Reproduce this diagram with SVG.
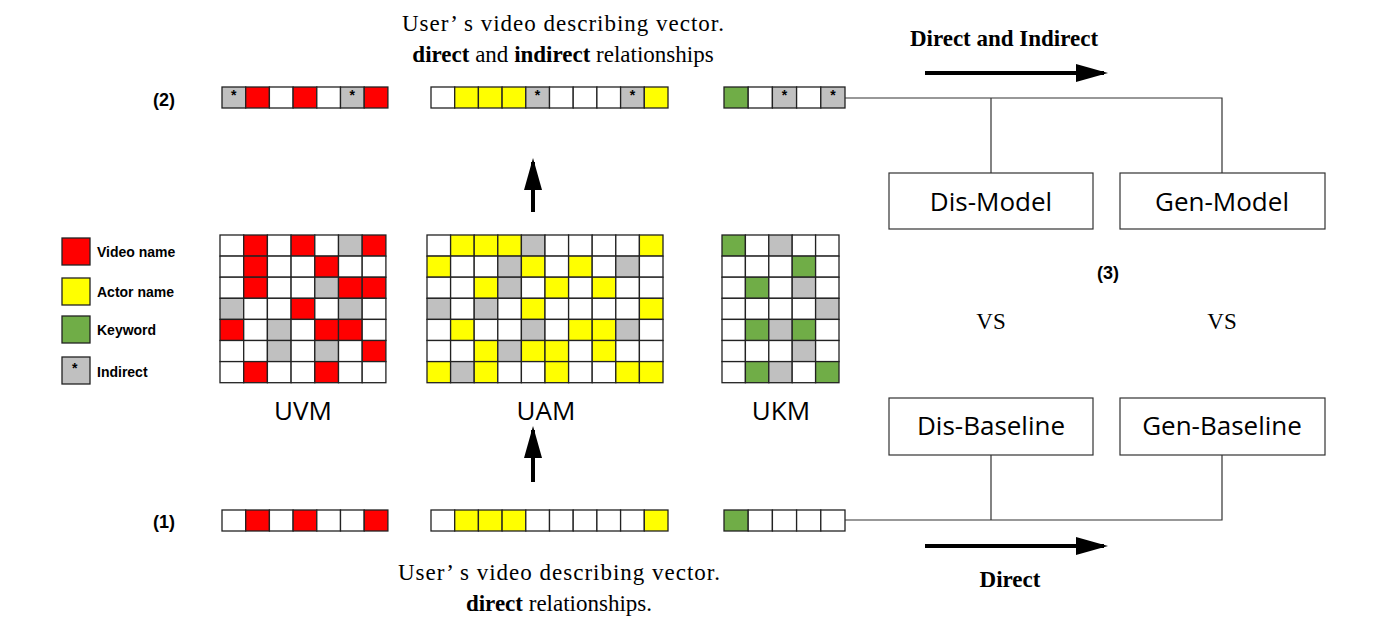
<svg xmlns="http://www.w3.org/2000/svg" width="1390" height="631" viewBox="0 0 1390 631">
<style>
.c{stroke:#222;stroke-width:1.3}
.w{fill:#fff}.r{fill:#f00}.y{fill:#ff0}.k{fill:#70ad47}.g{fill:#c0c0c0}
.st{font-family:"Liberation Sans",Arial,sans-serif;font-weight:bold;font-size:14px;fill:#000}
.cap{font-family:"Open Sans","DejaVu Sans",sans-serif;font-size:26px;fill:#000}
.bx{font-family:"Open Sans","DejaVu Sans",sans-serif;font-size:26px;fill:#000}
.ser{font-family:"Liberation Serif","Times New Roman",serif;font-size:23px;fill:#000}
.lbl{font-family:"Liberation Sans",Arial,sans-serif;font-weight:bold;font-size:18px}
.box{fill:#fff;stroke:#333;stroke-width:1.2}
.ln{stroke:#333;stroke-width:1.2;fill:none}
.ar{stroke:#000;stroke-width:4;fill:none}
</style>
<defs>
<marker id="ah" markerWidth="8" markerHeight="4.5" refX="7" refY="2.25" orient="auto" markerUnits="strokeWidth"><path d="M0,0 L8,2.25 L0,4.5 z" fill="#000"/></marker>
</defs>
<rect width="1390" height="631" fill="#fff"/>

<g id="legend">
<rect x="62" y="238" width="28" height="27" class="c r"/><text x="97" y="257" class="st">Video name</text>
<rect x="62" y="278" width="28" height="27" class="c y"/><text x="97" y="297" class="st">Actor name</text>
<rect x="62" y="316" width="28" height="27" class="c k"/><text x="97" y="335" class="st">Keyword</text>
<rect x="62" y="357" width="28" height="27" class="c g"/><text x="72" y="373" class="st">*</text><text x="97" y="377" class="st">Indirect</text>
</g>

<g id="UVM">
<g transform="translate(220,235)">
<rect x="0" y="0" width="23.7" height="21.1" class="c w"/><rect x="23.7" y="0" width="23.7" height="21.1" class="c r"/><rect x="47.4" y="0" width="23.7" height="21.1" class="c w"/><rect x="71.1" y="0" width="23.7" height="21.1" class="c r"/><rect x="94.8" y="0" width="23.7" height="21.1" class="c w"/><rect x="118.5" y="0" width="23.7" height="21.1" class="c g"/><rect x="142.2" y="0" width="23.7" height="21.1" class="c r"/>
<rect x="0" y="21.1" width="23.7" height="21.1" class="c w"/><rect x="23.7" y="21.1" width="23.7" height="21.1" class="c r"/><rect x="47.4" y="21.1" width="23.7" height="21.1" class="c w"/><rect x="71.1" y="21.1" width="23.7" height="21.1" class="c w"/><rect x="94.8" y="21.1" width="23.7" height="21.1" class="c r"/><rect x="118.5" y="21.1" width="23.7" height="21.1" class="c w"/><rect x="142.2" y="21.1" width="23.7" height="21.1" class="c w"/>
<rect x="0" y="42.2" width="23.7" height="21.1" class="c w"/><rect x="23.7" y="42.2" width="23.7" height="21.1" class="c r"/><rect x="47.4" y="42.2" width="23.7" height="21.1" class="c w"/><rect x="71.1" y="42.2" width="23.7" height="21.1" class="c w"/><rect x="94.8" y="42.2" width="23.7" height="21.1" class="c g"/><rect x="118.5" y="42.2" width="23.7" height="21.1" class="c r"/><rect x="142.2" y="42.2" width="23.7" height="21.1" class="c r"/>
<rect x="0" y="63.3" width="23.7" height="21.1" class="c g"/><rect x="23.7" y="63.3" width="23.7" height="21.1" class="c w"/><rect x="47.4" y="63.3" width="23.7" height="21.1" class="c w"/><rect x="71.1" y="63.3" width="23.7" height="21.1" class="c r"/><rect x="94.8" y="63.3" width="23.7" height="21.1" class="c w"/><rect x="118.5" y="63.3" width="23.7" height="21.1" class="c g"/><rect x="142.2" y="63.3" width="23.7" height="21.1" class="c w"/>
<rect x="0" y="84.4" width="23.7" height="21.1" class="c r"/><rect x="23.7" y="84.4" width="23.7" height="21.1" class="c w"/><rect x="47.4" y="84.4" width="23.7" height="21.1" class="c g"/><rect x="71.1" y="84.4" width="23.7" height="21.1" class="c w"/><rect x="94.8" y="84.4" width="23.7" height="21.1" class="c r"/><rect x="118.5" y="84.4" width="23.7" height="21.1" class="c r"/><rect x="142.2" y="84.4" width="23.7" height="21.1" class="c w"/>
<rect x="0" y="105.5" width="23.7" height="21.1" class="c w"/><rect x="23.7" y="105.5" width="23.7" height="21.1" class="c w"/><rect x="47.4" y="105.5" width="23.7" height="21.1" class="c g"/><rect x="71.1" y="105.5" width="23.7" height="21.1" class="c w"/><rect x="94.8" y="105.5" width="23.7" height="21.1" class="c g"/><rect x="118.5" y="105.5" width="23.7" height="21.1" class="c w"/><rect x="142.2" y="105.5" width="23.7" height="21.1" class="c r"/>
<rect x="0" y="126.6" width="23.7" height="21.1" class="c w"/><rect x="23.7" y="126.6" width="23.7" height="21.1" class="c r"/><rect x="47.4" y="126.6" width="23.7" height="21.1" class="c w"/><rect x="71.1" y="126.6" width="23.7" height="21.1" class="c w"/><rect x="94.8" y="126.6" width="23.7" height="21.1" class="c r"/><rect x="118.5" y="126.6" width="23.7" height="21.1" class="c w"/><rect x="142.2" y="126.6" width="23.7" height="21.1" class="c w"/>
</g>
<text x="303" y="420" text-anchor="middle" class="cap">UVM</text>
</g>

<g id="UAM">
<g transform="translate(427,235)">
<rect x="0" y="0" width="23.6" height="21.1" class="c w"/><rect x="23.6" y="0" width="23.6" height="21.1" class="c y"/><rect x="47.2" y="0" width="23.6" height="21.1" class="c y"/><rect x="70.8" y="0" width="23.6" height="21.1" class="c y"/><rect x="94.4" y="0" width="23.6" height="21.1" class="c g"/><rect x="118" y="0" width="23.6" height="21.1" class="c w"/><rect x="141.6" y="0" width="23.6" height="21.1" class="c w"/><rect x="165.2" y="0" width="23.6" height="21.1" class="c w"/><rect x="188.8" y="0" width="23.6" height="21.1" class="c w"/><rect x="212.4" y="0" width="23.6" height="21.1" class="c y"/>
<rect x="0" y="21.1" width="23.6" height="21.1" class="c y"/><rect x="23.6" y="21.1" width="23.6" height="21.1" class="c w"/><rect x="47.2" y="21.1" width="23.6" height="21.1" class="c w"/><rect x="70.8" y="21.1" width="23.6" height="21.1" class="c g"/><rect x="94.4" y="21.1" width="23.6" height="21.1" class="c y"/><rect x="118" y="21.1" width="23.6" height="21.1" class="c w"/><rect x="141.6" y="21.1" width="23.6" height="21.1" class="c y"/><rect x="165.2" y="21.1" width="23.6" height="21.1" class="c w"/><rect x="188.8" y="21.1" width="23.6" height="21.1" class="c g"/><rect x="212.4" y="21.1" width="23.6" height="21.1" class="c w"/>
<rect x="0" y="42.2" width="23.6" height="21.1" class="c w"/><rect x="23.6" y="42.2" width="23.6" height="21.1" class="c w"/><rect x="47.2" y="42.2" width="23.6" height="21.1" class="c y"/><rect x="70.8" y="42.2" width="23.6" height="21.1" class="c g"/><rect x="94.4" y="42.2" width="23.6" height="21.1" class="c w"/><rect x="118" y="42.2" width="23.6" height="21.1" class="c y"/><rect x="141.6" y="42.2" width="23.6" height="21.1" class="c w"/><rect x="165.2" y="42.2" width="23.6" height="21.1" class="c y"/><rect x="188.8" y="42.2" width="23.6" height="21.1" class="c w"/><rect x="212.4" y="42.2" width="23.6" height="21.1" class="c w"/>
<rect x="0" y="63.3" width="23.6" height="21.1" class="c g"/><rect x="23.6" y="63.3" width="23.6" height="21.1" class="c w"/><rect x="47.2" y="63.3" width="23.6" height="21.1" class="c g"/><rect x="70.8" y="63.3" width="23.6" height="21.1" class="c w"/><rect x="94.4" y="63.3" width="23.6" height="21.1" class="c y"/><rect x="118" y="63.3" width="23.6" height="21.1" class="c w"/><rect x="141.6" y="63.3" width="23.6" height="21.1" class="c w"/><rect x="165.2" y="63.3" width="23.6" height="21.1" class="c w"/><rect x="188.8" y="63.3" width="23.6" height="21.1" class="c w"/><rect x="212.4" y="63.3" width="23.6" height="21.1" class="c y"/>
<rect x="0" y="84.4" width="23.6" height="21.1" class="c w"/><rect x="23.6" y="84.4" width="23.6" height="21.1" class="c y"/><rect x="47.2" y="84.4" width="23.6" height="21.1" class="c w"/><rect x="70.8" y="84.4" width="23.6" height="21.1" class="c w"/><rect x="94.4" y="84.4" width="23.6" height="21.1" class="c g"/><rect x="118" y="84.4" width="23.6" height="21.1" class="c w"/><rect x="141.6" y="84.4" width="23.6" height="21.1" class="c y"/><rect x="165.2" y="84.4" width="23.6" height="21.1" class="c y"/><rect x="188.8" y="84.4" width="23.6" height="21.1" class="c g"/><rect x="212.4" y="84.4" width="23.6" height="21.1" class="c w"/>
<rect x="0" y="105.5" width="23.6" height="21.1" class="c w"/><rect x="23.6" y="105.5" width="23.6" height="21.1" class="c w"/><rect x="47.2" y="105.5" width="23.6" height="21.1" class="c y"/><rect x="70.8" y="105.5" width="23.6" height="21.1" class="c g"/><rect x="94.4" y="105.5" width="23.6" height="21.1" class="c y"/><rect x="118" y="105.5" width="23.6" height="21.1" class="c y"/><rect x="141.6" y="105.5" width="23.6" height="21.1" class="c w"/><rect x="165.2" y="105.5" width="23.6" height="21.1" class="c y"/><rect x="188.8" y="105.5" width="23.6" height="21.1" class="c w"/><rect x="212.4" y="105.5" width="23.6" height="21.1" class="c w"/>
<rect x="0" y="126.6" width="23.6" height="21.1" class="c y"/><rect x="23.6" y="126.6" width="23.6" height="21.1" class="c g"/><rect x="47.2" y="126.6" width="23.6" height="21.1" class="c y"/><rect x="70.8" y="126.6" width="23.6" height="21.1" class="c w"/><rect x="94.4" y="126.6" width="23.6" height="21.1" class="c w"/><rect x="118" y="126.6" width="23.6" height="21.1" class="c y"/><rect x="141.6" y="126.6" width="23.6" height="21.1" class="c w"/><rect x="165.2" y="126.6" width="23.6" height="21.1" class="c w"/><rect x="188.8" y="126.6" width="23.6" height="21.1" class="c y"/><rect x="212.4" y="126.6" width="23.6" height="21.1" class="c y"/>
</g>
<text x="546" y="420" text-anchor="middle" class="cap">UAM</text>
</g>

<g id="UKM">
<g transform="translate(722,235)">
<rect x="0" y="0" width="23.4" height="21.1" class="c k"/><rect x="23.4" y="0" width="23.4" height="21.1" class="c w"/><rect x="46.8" y="0" width="23.4" height="21.1" class="c g"/><rect x="70.2" y="0" width="23.4" height="21.1" class="c w"/><rect x="93.6" y="0" width="23.4" height="21.1" class="c w"/>
<rect x="0" y="21.1" width="23.4" height="21.1" class="c w"/><rect x="23.4" y="21.1" width="23.4" height="21.1" class="c w"/><rect x="46.8" y="21.1" width="23.4" height="21.1" class="c w"/><rect x="70.2" y="21.1" width="23.4" height="21.1" class="c k"/><rect x="93.6" y="21.1" width="23.4" height="21.1" class="c w"/>
<rect x="0" y="42.2" width="23.4" height="21.1" class="c w"/><rect x="23.4" y="42.2" width="23.4" height="21.1" class="c k"/><rect x="46.8" y="42.2" width="23.4" height="21.1" class="c w"/><rect x="70.2" y="42.2" width="23.4" height="21.1" class="c g"/><rect x="93.6" y="42.2" width="23.4" height="21.1" class="c w"/>
<rect x="0" y="63.3" width="23.4" height="21.1" class="c w"/><rect x="23.4" y="63.3" width="23.4" height="21.1" class="c w"/><rect x="46.8" y="63.3" width="23.4" height="21.1" class="c w"/><rect x="70.2" y="63.3" width="23.4" height="21.1" class="c w"/><rect x="93.6" y="63.3" width="23.4" height="21.1" class="c g"/>
<rect x="0" y="84.4" width="23.4" height="21.1" class="c w"/><rect x="23.4" y="84.4" width="23.4" height="21.1" class="c k"/><rect x="46.8" y="84.4" width="23.4" height="21.1" class="c g"/><rect x="70.2" y="84.4" width="23.4" height="21.1" class="c k"/><rect x="93.6" y="84.4" width="23.4" height="21.1" class="c w"/>
<rect x="0" y="105.5" width="23.4" height="21.1" class="c w"/><rect x="23.4" y="105.5" width="23.4" height="21.1" class="c w"/><rect x="46.8" y="105.5" width="23.4" height="21.1" class="c w"/><rect x="70.2" y="105.5" width="23.4" height="21.1" class="c g"/><rect x="93.6" y="105.5" width="23.4" height="21.1" class="c w"/>
<rect x="0" y="126.6" width="23.4" height="21.1" class="c w"/><rect x="23.4" y="126.6" width="23.4" height="21.1" class="c k"/><rect x="46.8" y="126.6" width="23.4" height="21.1" class="c g"/><rect x="70.2" y="126.6" width="23.4" height="21.1" class="c w"/><rect x="93.6" y="126.6" width="23.4" height="21.1" class="c k"/>
</g>
<text x="781" y="420" text-anchor="middle" class="cap">UKM</text>
</g>

<g id="vectors2">
<text x="153" y="106" class="lbl">(2)</text>
<g transform="translate(222,87)">
<rect x="0" y="0" width="23.7" height="21" class="c g"/><rect x="23.7" y="0" width="23.7" height="21" class="c r"/><rect x="47.4" y="0" width="23.7" height="21" class="c w"/><rect x="71.1" y="0" width="23.7" height="21" class="c r"/><rect x="94.8" y="0" width="23.7" height="21" class="c w"/><rect x="118.5" y="0" width="23.7" height="21" class="c g"/><rect x="142.2" y="0" width="23.7" height="21" class="c r"/>
<text x="11.8" y="13" text-anchor="middle" class="st">*</text><text x="130.3" y="13" text-anchor="middle" class="st">*</text>
</g>
<g transform="translate(431,87)">
<rect x="0" y="0" width="23.7" height="21" class="c w"/><rect x="23.7" y="0" width="23.7" height="21" class="c y"/><rect x="47.4" y="0" width="23.7" height="21" class="c y"/><rect x="71.1" y="0" width="23.7" height="21" class="c y"/><rect x="94.8" y="0" width="23.7" height="21" class="c g"/><rect x="118.5" y="0" width="23.7" height="21" class="c w"/><rect x="142.2" y="0" width="23.7" height="21" class="c w"/><rect x="165.9" y="0" width="23.7" height="21" class="c w"/><rect x="189.6" y="0" width="23.7" height="21" class="c g"/><rect x="213.3" y="0" width="23.7" height="21" class="c y"/>
<text x="106.6" y="13" text-anchor="middle" class="st">*</text><text x="201.4" y="13" text-anchor="middle" class="st">*</text>
</g>
<g transform="translate(724,87)">
<rect x="0" y="0" width="24.2" height="21" class="c k"/><rect x="24.2" y="0" width="24.2" height="21" class="c w"/><rect x="48.4" y="0" width="24.2" height="21" class="c g"/><rect x="72.6" y="0" width="24.2" height="21" class="c w"/><rect x="96.8" y="0" width="24.2" height="21" class="c g"/>
<text x="60.5" y="13" text-anchor="middle" class="st">*</text><text x="108.9" y="13" text-anchor="middle" class="st">*</text>
</g>
</g>

<g id="vectors1">
<text x="153" y="528" class="lbl">(1)</text>
<g transform="translate(222,510)">
<rect x="0" y="0" width="23.7" height="21" class="c w"/><rect x="23.7" y="0" width="23.7" height="21" class="c r"/><rect x="47.4" y="0" width="23.7" height="21" class="c w"/><rect x="71.1" y="0" width="23.7" height="21" class="c r"/><rect x="94.8" y="0" width="23.7" height="21" class="c w"/><rect x="118.5" y="0" width="23.7" height="21" class="c w"/><rect x="142.2" y="0" width="23.7" height="21" class="c r"/>
</g>
<g transform="translate(431,510)">
<rect x="0" y="0" width="23.7" height="21" class="c w"/><rect x="23.7" y="0" width="23.7" height="21" class="c y"/><rect x="47.4" y="0" width="23.7" height="21" class="c y"/><rect x="71.1" y="0" width="23.7" height="21" class="c y"/><rect x="94.8" y="0" width="23.7" height="21" class="c w"/><rect x="118.5" y="0" width="23.7" height="21" class="c w"/><rect x="142.2" y="0" width="23.7" height="21" class="c w"/><rect x="165.9" y="0" width="23.7" height="21" class="c w"/><rect x="189.6" y="0" width="23.7" height="21" class="c w"/><rect x="213.3" y="0" width="23.7" height="21" class="c y"/>
</g>
<g transform="translate(724,510)">
<rect x="0" y="0" width="24.2" height="21" class="c k"/><rect x="24.2" y="0" width="24.2" height="21" class="c w"/><rect x="48.4" y="0" width="24.2" height="21" class="c w"/><rect x="72.6" y="0" width="24.2" height="21" class="c w"/><rect x="96.8" y="0" width="24.2" height="21" class="c w"/>
</g>
</g>

<g id="captions">
<text x="563" y="31" text-anchor="middle" class="ser" textLength="322">User’ s video describing vector.</text>
<text x="563" y="62" text-anchor="middle" class="ser"><tspan font-weight="bold">direct</tspan> and <tspan font-weight="bold">indirect</tspan> relationships</text>
<text x="559" y="580" text-anchor="middle" class="ser" textLength="322">User’ s video describing vector.</text>
<text x="559" y="611" text-anchor="middle" class="ser"><tspan font-weight="bold">direct</tspan> relationships.</text>
<text x="1004" y="46" text-anchor="middle" class="ser" font-weight="bold" font-size="22">Direct and Indirect</text>
<text x="1010" y="587" text-anchor="middle" class="ser" font-weight="bold" font-size="22">Direct</text>
<text x="1108" y="279" text-anchor="middle" class="lbl">(3)</text>
<text x="991" y="329" text-anchor="middle" class="ser" font-size="27">VS</text>
<text x="1222" y="329" text-anchor="middle" class="ser" font-size="27">VS</text>
</g>

<g id="connectors">
<path class="ln" d="M845,98 H1222 V173 M991,98 V173"/>
<path class="ln" d="M845,520 H1222 V455 M991,520 V455"/>
<line x1="925" y1="73" x2="1104" y2="73" class="ar" marker-end="url(#ah)"/>
<line x1="925" y1="546" x2="1104" y2="546" class="ar" marker-end="url(#ah)"/>
<line x1="533" y1="212" x2="533" y2="162" class="ar" stroke-width="3" marker-end="url(#ah)"/>
<line x1="533" y1="482" x2="533" y2="430" class="ar" stroke-width="3" marker-end="url(#ah)"/>
</g>

<g id="dis-model"><rect x="889" y="173" width="204" height="56" class="box"/><text x="991" y="211" text-anchor="middle" class="bx">Dis-Model</text></g>
<g id="gen-model"><rect x="1120" y="173" width="205" height="56" class="box"/><text x="1222" y="211" text-anchor="middle" class="bx">Gen-Model</text></g>
<g id="dis-baseline"><rect x="889" y="398" width="204" height="57" class="box"/><text x="991" y="435" text-anchor="middle" class="bx">Dis-Baseline</text></g>
<g id="gen-baseline"><rect x="1120" y="398" width="205" height="57" class="box"/><text x="1222" y="435" text-anchor="middle" class="bx">Gen-Baseline</text></g>
</svg>
